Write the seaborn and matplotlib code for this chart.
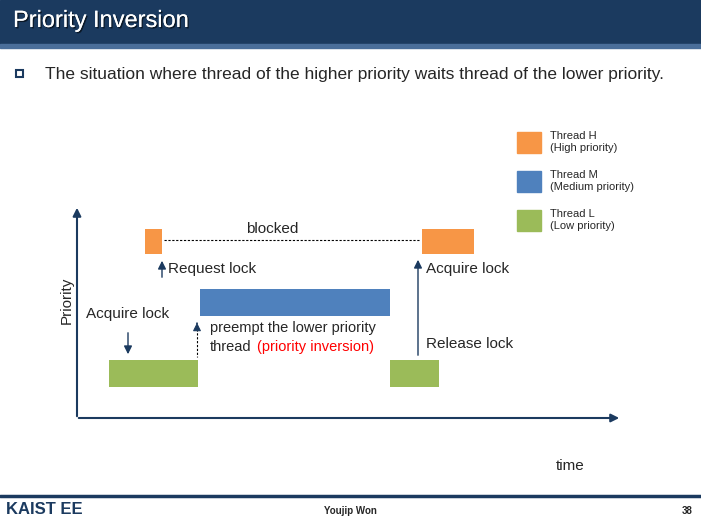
import matplotlib
matplotlib.use("Agg")
import matplotlib.pyplot as plt
import seaborn as sns
from matplotlib.patches import Rectangle
import matplotlib.patheffects as pe

sns.set_theme(style="white")
plt.rcParams["font.family"] = "Liberation Sans"
plt.rcParams["font.sans-serif"] = ["Liberation Sans", "DejaVu Sans"]

# data (pixel-space slide units: x start, x end, y top, y bottom)
threads = ["H", "H", "M", "L", "L"]
x_start = [145, 422, 200, 109, 390]
x_end = [162, 474, 390, 198, 439]
y_top = [229, 229, 289, 360, 360]
y_bot = [254, 254, 316, 387, 387]
colors = {"H": "#F79646", "M": "#4F81BD", "L": "#9BBB59"}
legend_labels = ["Thread H\n(High priority)", "Thread M\n(Medium priority)", "Thread L\n(Low priority)"]
legend_keys = ["H", "M", "L"]

fig = plt.figure(figsize=(7.01, 5.23), dpi=100)
ax = fig.add_axes([0, 0, 1, 1])
ax.set_xlim(0, 701)
ax.set_ylim(523, 0)
ax.axis("off")

# header
ax.add_patch(Rectangle((0, 0), 701, 44, color="#1B3A5F"))
ax.add_patch(Rectangle((0, 44), 701, 4, color="#4A6E9A"))
ax.text(13, 21, "Priority Inversion", color="white", fontsize=17, va="center", ha="left",
        path_effects=[pe.withSimplePatchShadow(offset=(1, -1), shadow_rgbFace="black", alpha=0.6), pe.Normal()])
ax.add_patch(Rectangle((16, 70), 7, 7, fill=False, edgecolor="#1B3A5F", lw=1.5))
ax.text(45, 74, "The situation where thread of the higher priority waits thread of the lower priority.",
        fontsize=12.5, va="center", ha="left")

# footer
ax.plot([0, 701], [496, 496], color="#1B3A5F", lw=2.5)
ax.text(6, 509, "KAIST EE", color="#1B3A5F", fontsize=12, fontweight="bold", va="center")
ax.text(350, 511, "Youjip Won", fontsize=7, fontweight="bold", va="center", ha="center")
ax.text(693, 511, "38", fontsize=7, fontweight="bold", va="center", ha="right")

# axes arrows
ax.annotate("", xy=(77, 205), xytext=(77, 419), arrowprops=dict(arrowstyle="-|>", color="#1B3A5F", lw=1.5))
ax.annotate("", xy=(622, 418), xytext=(76, 418), arrowprops=dict(arrowstyle="-|>", color="#1B3A5F", lw=1.5))
ax.text(67, 300, "Priority", rotation=90, fontsize=11, va="center", ha="center")
ax.text(570, 466, "time", fontsize=11, va="center", ha="center")

# bars
for t, x0, x1, y0, y1 in zip(threads, x_start, x_end, y_top, y_bot):
    ax.bar(x0, y1 - y0, width=x1 - x0, bottom=y0, align="edge", color=colors[t], edgecolor="none")

# legend
for i, (k, lab) in enumerate(zip(legend_keys, legend_labels)):
    y = 132 + i * 39
    ax.add_patch(Rectangle((517, y), 24, 21, color=colors[k]))
    ax.text(550, y - 1, lab, fontsize=8, va="top", ha="left", linespacing=1.3)

# annotations
ax.plot([164, 420], [240, 240], ls=(0, (2, 1.5)), color="black", lw=0.8)
ax.text(272, 229, "blocked", fontsize=11, ha="center", va="center")
ax.annotate("", xy=(162, 258), xytext=(162, 280), arrowprops=dict(arrowstyle="-|>", lw=1, color="#1B3A5F"))
ax.text(168, 269, "Request lock", fontsize=11, va="center")
ax.text(86, 314, "Acquire lock", fontsize=11, va="center")
ax.annotate("", xy=(128, 357), xytext=(128, 330), arrowprops=dict(arrowstyle="-|>", lw=1, color="#1B3A5F"))
ax.plot([197, 197], [325, 357], ls=(0, (2, 1.5)), color="black", lw=0.8)
ax.annotate("", xy=(197, 320), xytext=(197, 326), arrowprops=dict(arrowstyle="-|>", lw=0.8, color="#1B3A5F"))
ax.text(210, 328, "preempt the lower priority", fontsize=10.5, va="center")
ax.text(210, 347, "thread", fontsize=10.5, va="center")
ax.text(257, 347, "(priority inversion)", fontsize=10.5, va="center", color="red")
ax.annotate("", xy=(418, 257), xytext=(418, 358), arrowprops=dict(arrowstyle="-|>", lw=1, color="#1B3A5F"))
ax.text(426, 269, "Acquire lock", fontsize=11, va="center")
ax.text(426, 344, "Release lock", fontsize=11, va="center")

fig.savefig("out.png", dpi=100)
